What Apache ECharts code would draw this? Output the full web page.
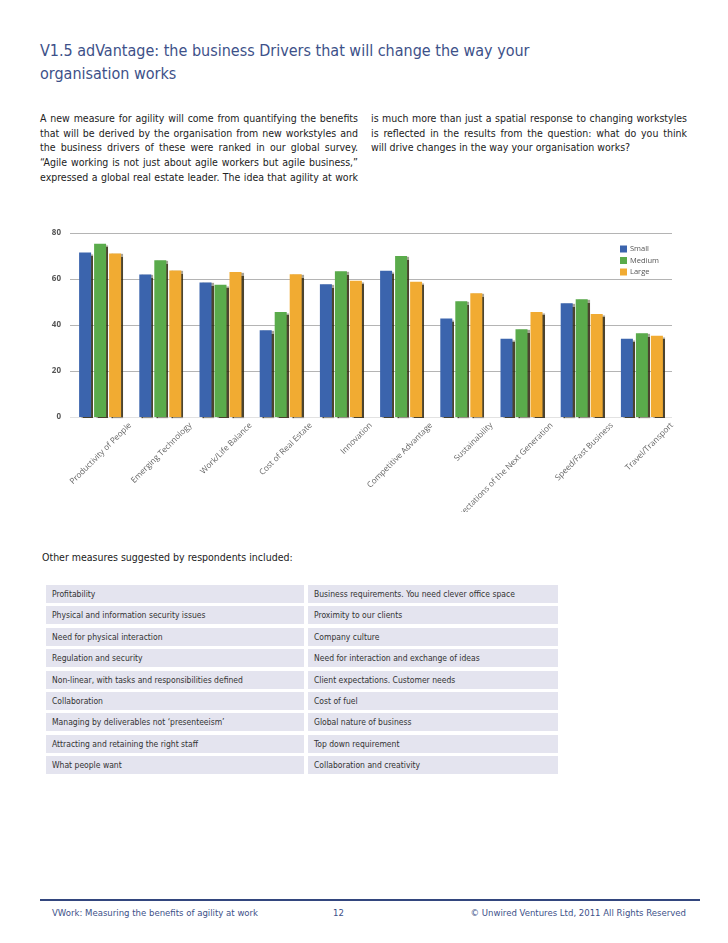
<!DOCTYPE html>
<html>
<head>
<meta charset="utf-8">
<script src="https://cdn.jsdelivr.net/npm/echarts@6/dist/echarts.min.js"></script>
<style>
  html, body { margin:0; padding:0; background:#fff; }
  body { width:728px; height:943px; position:relative; overflow:hidden;
         font-family:"Liberation Sans Narrow","DejaVu Sans Condensed","Liberation Sans",sans-serif; }
  .abs { position:absolute; white-space:nowrap; }
  #title { left:40px; top:39px; font-size:16px; line-height:23px; color:#3d5189; }
  .col { position:absolute; width:318px; font-size:10.5px; line-height:14.7px; color:#222; }
  .col div { text-align:justify; text-align-last:justify; white-space:nowrap; }
  .col div.last { text-align-last:left; }
  #chart { position:absolute; left:0; top:210px; width:728px; height:302px; }
  #other { left:42px; top:551px; font-size:10.5px; color:#222; }
  .cell { position:absolute; height:18px; line-height:18px; background:#e4e4ef; font-size:8.5px; color:#333; padding-left:6px; box-sizing:border-box; white-space:nowrap; }
  #footline { position:absolute; left:40px; top:899px; width:660px; height:2px; background:#33467e; }
  .foot { position:absolute; top:907px; font-size:9.5px; color:#3d5189; white-space:nowrap; }
</style>
</head>
<body>
<div id="title" class="abs">V1.5 adVantage: the business Drivers that will change the way your<br>organisation works</div>

<div class="col" style="left:40px; top:111px;">
  <div>A new measure for agility will come from quantifying the benefits</div>
  <div>that will be derived by the organisation from new workstyles and</div>
  <div>the business drivers of these were ranked in our global survey.</div>
  <div>“Agile working is not just about agile workers but agile business,”</div>
  <div>expressed a global real estate leader. The idea that agility at work</div>
</div>
<div class="col" style="left:371px; top:111px; width:316px;">
  <div>is much more than just a spatial response to changing workstyles</div>
  <div>is reflected in the results from the question: what do you think</div>
  <div class="last">will drive changes in the way your organisation works?</div>
</div>

<div id="chart"></div>

<div id="other" class="abs">Other measures suggested by respondents included:</div>
<div id="table"></div>

<div id="footline"></div>
<div class="foot" style="left:52px;">VWork: Measuring the benefits of agility at work</div>
<div class="foot" style="left:333px;">12</div>
<div class="foot" style="right:42px;">© Unwired Ventures Ltd, 2011 All Rights Reserved</div>

<script>
const categories = ["Productivity of People","Emerging Technology","Work/Life Balance","Cost of Real Estate","Innovation","Competitive Advantage","Sustainability","Expectations of the Next Generation","Speed/Fast Business","Travel/Transport"];
const small  = [71.5, 62, 58.5, 37.7, 57.7, 63.6, 42.8, 34, 49.5, 34];
const medium = [75.3, 68.1, 57.5, 45.7, 63.4, 70, 50.3, 38.1, 51.2, 36.4];
const large  = [71.1, 63.7, 63, 62.1, 59.2, 58.8, 53.8, 45.7, 44.8, 35.3];
const yTicks = [0, 20, 40, 60, 80];
const tableLeft = ["Profitability","Physical and information security issues","Need for physical interaction","Regulation and security","Non-linear, with tasks and responsibilities defined","Collaboration","Managing by deliverables not ‘presenteeism’","Attracting and retaining the right staff","What people want"];
const tableRight = ["Business requirements. You need clever office space","Proximity to our clients","Company culture","Need for interaction and exchange of ideas","Client expectations. Customer needs","Cost of fuel","Global nature of business","Top down requirement","Collaboration and creativity"];

// table
const tbl = document.getElementById('table');
for (let i = 0; i < tableLeft.length; i++) {
  const top = 585 + i * 21.4;
  const a = document.createElement('div');
  a.className = 'cell'; a.style.left = '46px'; a.style.width = '258px'; a.style.top = top + 'px';
  a.textContent = tableLeft[i]; tbl.appendChild(a);
  const b = document.createElement('div');
  b.className = 'cell'; b.style.left = '308px'; b.style.width = '250px'; b.style.top = top + 'px';
  b.textContent = tableRight[i]; tbl.appendChild(b);
}

const chart = echarts.init(document.getElementById('chart'), null, {renderer:'canvas'});
const shadow = { shadowColor:'rgba(45,35,10,0.85)', shadowOffsetX:2, shadowOffsetY:1, shadowBlur:1 };
const mk = (name, data, color) => ({
  name, type:'bar', data, barWidth:12, barGap:'25%', xAxisIndex:0,
  itemStyle: Object.assign({ color }, shadow)
});
chart.setOption({
  animation:false,
  textStyle:{ fontFamily:'"Open Sans","Liberation Sans",sans-serif' },
  grid:{ left:70, right:56, top:23, height:184, containLabel:false, outerBoundsMode:'none' },
  legend:{
    data:['Small','Medium','Large'], orient:'vertical', left:615, top:30,
    itemWidth:7, itemHeight:7, itemGap:3.5, icon:'rect',
    textStyle:{ fontSize:7.5, color:'#555', padding:[0,0,0,-2] }
  },
  xAxis:[
    { type:'category', data:categories, axisLine:{show:false}, axisTick:{show:false}, axisLabel:{show:false} },
    { type:'value', min:0, max:categories.length, interval:1, position:'bottom',
      axisLine:{show:false}, axisTick:{show:false}, splitLine:{show:false},
      axisLabel:{ rotate:45, margin:7, fontSize:8.2, color:'#666', showMinLabel:true, showMaxLabel:true,
        formatter:v => (v >= 1 && v <= categories.length) ? categories[v-1] : '' } }
  ],
  yAxis:{
    type:'value', min:yTicks[0], max:yTicks[yTicks.length-1], interval:20,
    axisLine:{show:false}, axisTick:{show:false},
    splitLine:{ lineStyle:{ color:['#e2e2e2','#b4b4b4','#b4b4b4','#b4b4b4','#b4b4b4'], width:1 } },
    axisLabel:{ fontSize:8, color:'#555', fontWeight:'bold', margin:9 }
  },
  series:[ mk('Small', small, '#3b64ad'), mk('Medium', medium, '#5aab4b'), mk('Large', large, '#f1ab32') ]
});
</script>
</body>
</html>
